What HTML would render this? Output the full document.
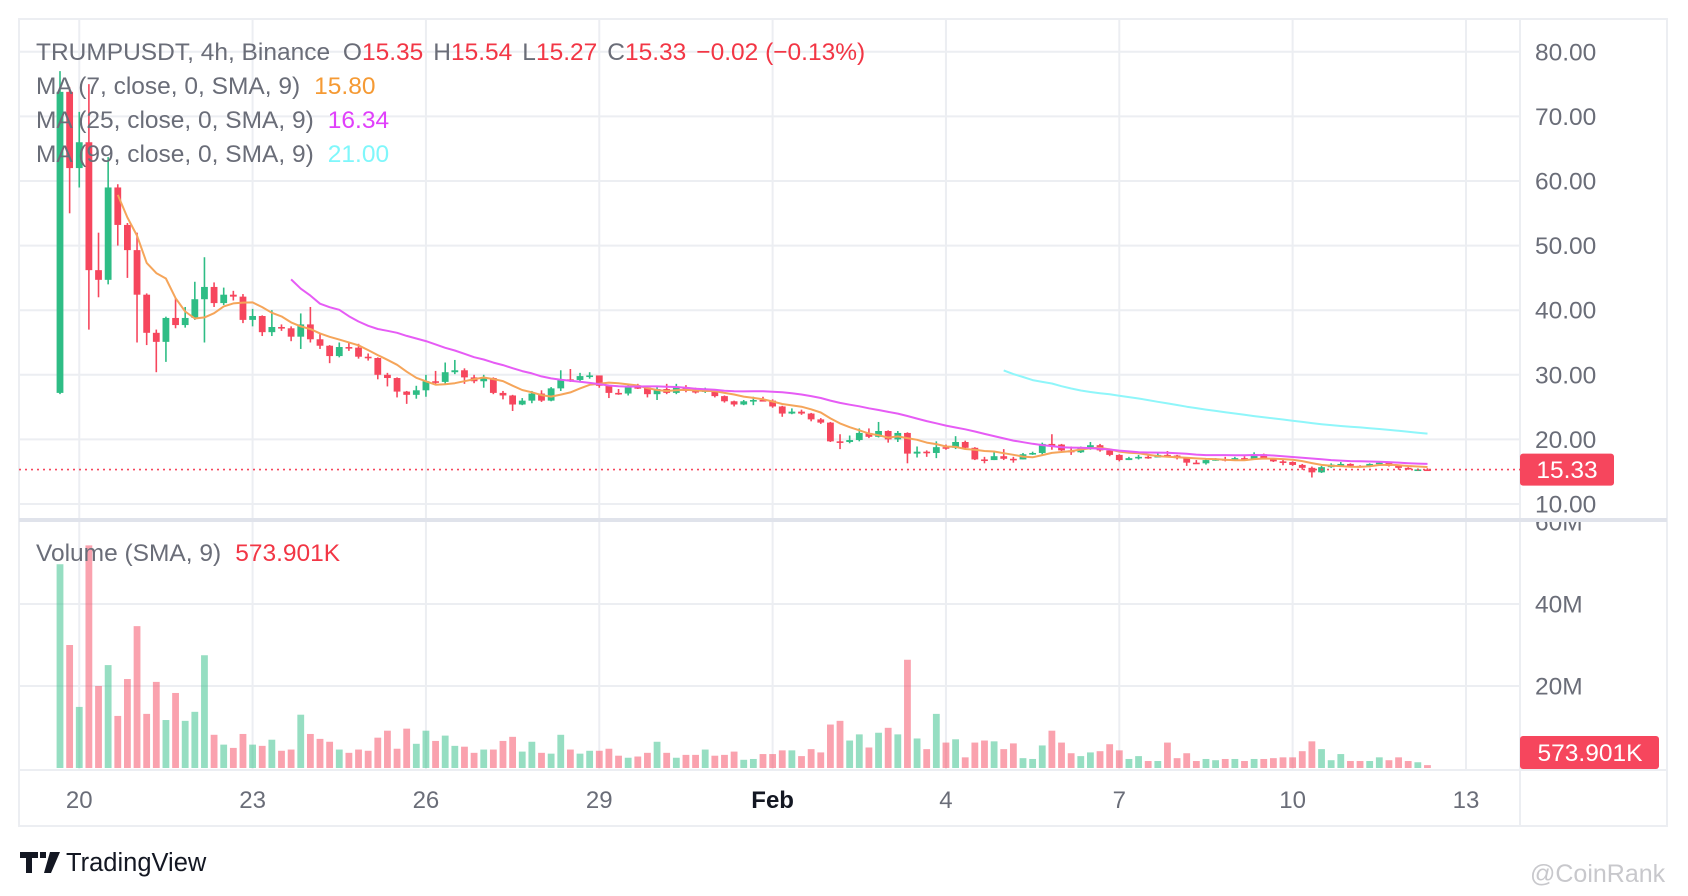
<!DOCTYPE html>
<html><head><meta charset="utf-8"><style>
html,body{margin:0;padding:0;background:#fff;width:1688px;height:896px;overflow:hidden}
svg{display:block;font-family:"Liberation Sans",sans-serif}
</style></head><body>
<svg id="chart" width="1688" height="896" viewBox="0 0 1688 896" xmlns="http://www.w3.org/2000/svg">
<defs><clipPath id="volclip"><rect x="0" y="522" width="1688" height="300"/></clipPath></defs>
<rect x="0" y="0" width="1688" height="896" fill="#fff"/>
<g id="grid"></g>
<g id="vol"></g>
<g id="candles"></g>
<g id="mas"></g>
<g id="axes"></g>
<g font-size="24.5" fill="#6a6d78">
<text x="36" y="60">TRUMPUSDT, 4h, Binance <tspan dx="6">O</tspan><tspan fill="#f23645">15.35</tspan><tspan dx="10">H</tspan><tspan fill="#f23645">15.54</tspan><tspan dx="10">L</tspan><tspan fill="#f23645">15.27</tspan><tspan dx="10">C</tspan><tspan fill="#f23645">15.33</tspan><tspan dx="10" fill="#f23645">−0.02 (−0.13%)</tspan></text>
<text x="36" y="94">MA (7, close, 0, SMA, 9)<tspan dx="14" fill="#f59a34">15.80</tspan></text>
<text x="36" y="128">MA (25, close, 0, SMA, 9)<tspan dx="14" fill="#e040fb">16.34</tspan></text>
<text x="36" y="162">MA (99, close, 0, SMA, 9)<tspan dx="14" fill="#7ff7fb">21.00</tspan></text>
<text x="36" y="561">Volume (SMA, 9)<tspan dx="14" fill="#f23645">573.901K</tspan></text>
</g>
<g>
<path d="M20 852h18v6h-6v15h-6v-15h-6z M40 852h6v6h-6z M50 852h10l-9 21h-7z" fill="#131722"/>
<text x="66" y="871" font-size="25.5" fill="#131722">TradingView</text>
</g>
<text x="1530" y="882" font-size="25" fill="#c8c8cc">@CoinRank</text>
</svg>
<script>
const openFirst = 27.2;
const closes = [73.8,62,66,46.2,44.7,59,53.2,49.3,42.4,36.5,35.1,38.8,37.7,38.8,41.7,43.6,41.1,42.4,42.1,38.5,39.1,36.6,37.4,37.2,35.9,37.8,35.5,34.5,32.9,34.3,34.2,32.8,32.6,30,29.5,27.4,26.9,27.6,29.0,28.9,30.4,30.7,29.6,29.0,29.5,27.2,26.8,25.4,26.0,27.1,26.0,27.9,29.3,29.2,29.8,29.9,28.3,27.2,27.1,28.1,28.0,27.0,27.8,27.2,28.1,27.5,27.4,27.6,26.7,25.9,25.4,25.9,26.1,26.0,25.1,24.0,24.3,24.0,23.1,22.6,19.7,19.6,19.9,21.0,20.4,21.3,20.0,21.0,17.8,18.1,17.9,18.8,18.7,19.6,18.7,16.9,16.8,17.4,17.0,16.9,17.7,17.9,19.3,19.2,18.3,18.0,18.7,19.1,18.3,17.6,16.8,17.1,17.3,17.2,17.6,17.5,17.1,16.4,16.3,16.8,16.95,16.8,17.1,17.0,17.7,17.0,16.6,16.5,16.05,15.6,14.9,15.7,16.1,16.2,15.9,15.8,16.2,16.4,15.9,15.6,15.35,15.35,15.33];
const highs = [77,74.5,70.7,75,52,63.7,59.5,53.5,52,42.6,37,39,41.9,40.5,44.4,48.2,44.3,43.5,43,42.5,40.2,39.2,40,37.8,37.5,39.5,40.5,36.3,34.6,35,35,34.8,33.3,32.7,30.3,29.6,27.5,28.3,30,30.6,31.9,32.3,31,30,30,29.6,27.5,26.9,26.4,27.5,27.6,28.1,30.7,30.9,30.3,30.4,29.9,28.4,27.8,28.4,28.6,28.2,28.1,28.6,28.6,28.4,28,28,27.8,26.8,26,26.1,26.6,26.6,26.2,25.2,24.8,24.6,24.1,23.3,22.7,20.8,20.6,21.7,21.7,22.7,21.4,21.3,21.1,18.9,18.3,19.7,19.2,20.5,19.8,18.8,17.3,18.1,18.5,17.3,17.9,18.1,19.5,20.8,19.3,18.9,18.9,19.6,19.3,18.6,17.7,17.3,17.6,17.7,17.9,18.2,17.6,17.2,16.8,17.0,17.1,17.3,17.3,17.4,18.0,17.8,17.1,16.9,16.6,16.2,15.8,15.9,16.3,16.5,16.3,16.0,16.3,16.6,16.5,16.0,15.7,15.5,15.54];
const lows = [27,55,59,37,42,44,50,45,35,34.6,30.4,32,37.2,37.3,38.5,35,40.5,40.8,41.5,38,37.5,36,36,36.8,35.2,34,35,34,31.8,32.7,33.7,32.5,32.2,29.3,28.2,26.5,25.5,26.3,26.6,28.5,28.5,30.1,28.6,28.7,28,27,26.2,24.4,25.3,25.6,25.8,25.9,27.5,28.9,28.8,29.4,28,26.4,26.9,26.8,27.8,26.5,26.1,27,27,27.3,27.1,27.2,26.5,25.7,25.1,25.3,25.3,25.9,24.9,23.5,23.9,23.8,22.8,22.4,19.6,18.5,19.4,19.7,20.2,20.3,19.5,19.6,16.3,17.2,17.3,17.1,18.4,18.5,18.5,16.8,16.3,16.8,16.8,16.4,16.9,17.6,17.5,18.4,18.2,17.6,17.9,18.4,18.1,17.4,16.6,16.8,16.9,17.0,17.2,17.3,16.9,15.9,16.2,16.1,16.7,16.6,16.7,16.9,16.9,16.9,16.5,16.0,15.9,15.3,14.1,14.8,15.6,15.8,15.8,15.7,15.7,16.0,15.8,15.3,15.3,15.2,15.27];
const volumes = [49.7,30,14.9,54.3,20,25.1,12.7,21.7,34.6,13.2,21,11.7,18.3,11.5,13.7,27.5,8.1,5.7,4.9,8.3,5.7,5.4,6.9,4.2,4.5,13,8.3,7.1,6.4,4.5,3.7,4.5,4.2,7.4,9.1,4.7,9.6,5.9,9.1,6.6,7.9,5.4,5.2,3.7,4.5,4.5,6.6,7.6,4.0,6.4,3.7,3.5,8.1,4.5,3.5,4.2,4.2,4.7,3.0,2.5,2.8,3.7,6.4,3.7,2.5,3.2,3.2,4.5,3.0,3.2,4.0,2.0,2.2,3.4,3.4,4.3,4.3,2.9,4.6,3.8,10.6,11.5,6.7,8.2,5.0,8.6,9.8,8.2,26.4,7.2,4.6,13.2,6.2,7.0,2.6,6.2,6.7,6.5,4.6,6.0,2.4,2.2,5.5,9.1,6.2,3.6,2.9,3.8,4.1,5.8,4.3,2.2,2.9,1.7,1.7,6.2,2.4,3.6,1.7,2.2,1.9,2.2,2.2,1.7,2.2,2.2,2.4,2.6,2.6,4.1,6.5,4.6,1.9,3.4,1.7,1.7,1.7,2.6,1.9,2.6,1.7,1.4,0.7];
const priceTicks = ["10.00","20.00","30.00","40.00","50.00","60.00","70.00","80.00"];
const priceTickVals = [10,20,30,40,50,60,70,80];
const volTicks = ["20M","40M","60M"];
const volTickVals = [20,40,60];
const dateLabels = ["20","23","26","29","Feb","4","7","10","13"];
const dateIdx = [2,20,38,56,74,92,110,128,146];
const lastPriceLabel = "15.33";
const lastVolLabel = "573.901K";

const NS = "http://www.w3.org/2000/svg";
const L = 19, R = 1520, TOP = 19, PB = 520, VB = 770, BOT = 826, RIGHT = 1667;
const xOf = i => 60 + 9.63 * i;
const yP = p => 504 - (p - 10) * 6.46;
const yV = v => 768 - v * 4.1;
function mk(tag, attrs, parent) {
  const e = document.createElementNS(NS, tag);
  for (const k in attrs) e.setAttribute(k, attrs[k]);
  parent.appendChild(e); return e;
}
const grid = document.getElementById('grid');
const axes = document.getElementById('axes');
const GC = "#eceef2";
let fr = mk('rect', {x: L, y: TOP, width: RIGHT - L, height: BOT - TOP, fill: 'none', stroke: GC, 'stroke-width': 2}, grid);


priceTickVals.forEach((v, k) => {
  const g = mk('line', {x1: L, x2: R, y1: yP(v), y2: yP(v), stroke: GC, 'stroke-width': 2}, grid);
  
  
  const t = mk('text', {x: 1535, y: yP(v) + 8.5, 'font-size': 24.5, fill: '#6a6d78'}, axes);
  t.textContent = priceTicks[k];
  
  
});
volTickVals.forEach((v, k) => {
  if (v < 60) {
    const g = mk('line', {x1: L, x2: R, y1: yV(v), y2: yV(v), stroke: GC, 'stroke-width': 2}, grid);
    
    
  }
  const t = mk('text', {x: 1535, y: yV(v) + 8.5, 'font-size': 24.5, fill: '#6a6d78', 'clip-path': 'url(#volclip)'}, axes);
  t.textContent = volTicks[k];
  
  
});
dateIdx.forEach((d, k) => {
  const x = xOf(d);
  if (x < R) {
    const g = mk('line', {x1: x, x2: x, y1: TOP, y2: VB, stroke: GC, 'stroke-width': 2}, grid);
    
    
  }
  const t = mk('text', {x: x, y: 808, 'font-size': 24, fill: dateLabels[k] === 'Feb' ? '#131722' : '#6a6d78', 'text-anchor': 'middle', 'font-weight': dateLabels[k] === 'Feb' ? 'bold' : 'normal'}, axes);
  t.textContent = dateLabels[k];
  
  
});
let s1 = mk('line', {x1: R, x2: R, y1: TOP, y2: BOT, stroke: GC, 'stroke-width': 2}, axes);


let s2 = mk('rect', {x: L, y: PB - 2, width: RIGHT - L, height: 4, fill: '#e0e3eb'}, axes);


let s3 = mk('line', {x1: L, x2: RIGHT, y1: VB, y2: VB, stroke: GC, 'stroke-width': 2}, axes);



const GREEN = "#2ebd85", RED = "#f6465d";
const volG = document.getElementById('vol');
const cG = document.getElementById('candles');
closes.forEach((c, i) => {
  const o = i === 0 ? openFirst : closes[i - 1];
  const up = c >= o;
  const col = up ? GREEN : RED;
  const x = xOf(i);
  const vb = mk('rect', {x: x - 3.4, y: yV(volumes[i]), width: 6.8, height: 768 - yV(volumes[i]), fill: col, 'fill-opacity': 0.5}, volG);
  
  
  const w = mk('line', {x1: x, x2: x, y1: yP(highs[i]), y2: yP(lows[i]), stroke: col, 'stroke-width': 1.6}, cG);
  
  
  const top = yP(Math.max(o, c)), bot = yP(Math.min(o, c));
  const b = mk('rect', {x: x - 3.4, y: top, width: 6.8, height: Math.max(1.6, bot - top), fill: col}, cG);
  
  
});
const maG = document.getElementById('mas');
[[7, '#f5a55a'], [25, '#e65cf5'], [99, '#8ff6fa']].forEach(([n, col]) => {
  let pts = [];
  for (let i = n - 1; i < closes.length; i++) {
    let s = 0; for (let j = i - n + 1; j <= i; j++) s += closes[j];
    pts.push(xOf(i).toFixed(1) + ',' + yP(s / n).toFixed(1));
  }
  const p = mk('polyline', {points: pts.join(' '), fill: 'none', stroke: col, 'stroke-width': 2, 'stroke-linejoin': 'round'}, maG);
  
  
});
const lp = closes[closes.length - 1];
const dl = mk('line', {x1: L, x2: R, y1: yP(lp), y2: yP(lp), stroke: RED, 'stroke-width': 1.6, 'stroke-dasharray': '2 4'}, axes);


const pt = mk('rect', {x: R, y: yP(lp) - 16, width: 94, height: 32, rx: 3, fill: RED}, axes);


const ptt = mk('text', {x: R + 47, y: yP(lp) + 8.5, 'font-size': 24.5, fill: '#fff', 'text-anchor': 'middle'}, axes);
ptt.textContent = lastPriceLabel;


const vt = mk('rect', {x: R, y: 736, width: 139, height: 33, rx: 3, fill: RED}, axes);


const vtt = mk('text', {x: R + 70, y: 761, 'font-size': 24.5, fill: '#fff', 'text-anchor': 'middle'}, axes);
vtt.textContent = lastVolLabel;


</script>
</body></html>
